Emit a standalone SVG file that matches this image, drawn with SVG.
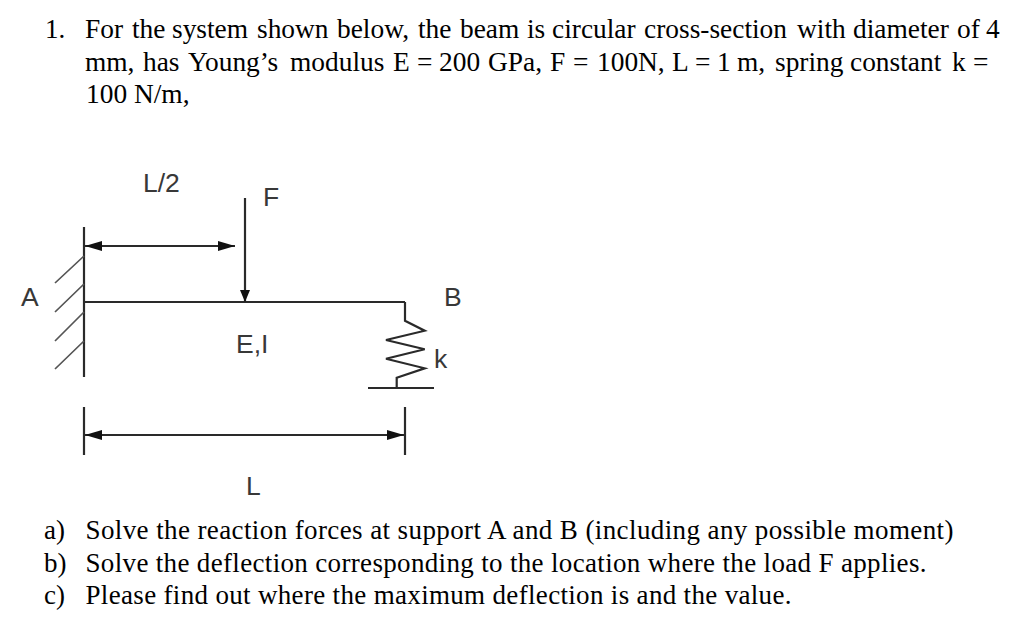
<svg xmlns="http://www.w3.org/2000/svg" width="1024" height="628" viewBox="0 0 1024 628">
<style>
.t{font-family:"Liberation Serif","Times New Roman",serif;font-size:27px;fill:#000}
.w{font-size:27.400px}
.l{font-family:"Liberation Sans",Arial,sans-serif;font-size:26.500px;fill:#383838}
.s{stroke:#2a2a2a;stroke-width:2.200;fill:none}
.h{stroke:#555;stroke-width:1.700;fill:none}
</style>
<defs>
<marker id="a" markerUnits="userSpaceOnUse" markerWidth="18" markerHeight="12" refX="17" refY="6" orient="auto-start-reverse"><path d="M0 1L17 6L0 11Z" fill="#111"/></marker>
<marker id="b" markerUnits="userSpaceOnUse" markerWidth="13" markerHeight="12" refX="12" refY="6" orient="auto"><path d="M0 1L12 6L0 11Z" fill="#111"/></marker>
</defs>
<rect width="1024" height="628" fill="#fff"/>
<g id="problem-text">
<text class="t" x="45" y="38">1.</text>
<text class="t w" y="38"><tspan x="85">For</tspan><tspan x="132">the</tspan><tspan x="172">system</tspan><tspan x="257">shown</tspan><tspan x="337">below,</tspan><tspan x="418">the</tspan><tspan x="460">beam</tspan><tspan x="527">is</tspan><tspan x="552">circular</tspan><tspan x="644">cross-section</tspan><tspan x="797">with</tspan><tspan x="853">diameter</tspan><tspan x="957">of</tspan><tspan x="986">4</tspan></text>
<text class="t w" y="70.500"><tspan x="85">mm,</tspan><tspan x="143">has</tspan><tspan x="188">Young’s</tspan><tspan x="290">modulus</tspan><tspan x="393">E</tspan><tspan x="417">=</tspan><tspan x="439">200</tspan><tspan x="488">GPa,</tspan><tspan x="550">F</tspan><tspan x="573">=</tspan><tspan x="597">100N,</tspan><tspan x="672">L</tspan><tspan x="695">=</tspan><tspan x="717">1</tspan><tspan x="737">m,</tspan><tspan x="775">spring</tspan><tspan x="850">constant</tspan><tspan x="952">k</tspan><tspan x="973">=</tspan></text>
<text class="t w" x="86" y="103">100 N/m,</text>
</g>
<g id="wall">
<path class="s" d="M84 227V377"/>
<path class="h" d="M84 256L55 283M84 284L55 312M84 312L55 341M84 341L55 369"/>
<text class="l" x="21" y="306">A</text>
</g>
<g id="beam">
<path class="s" d="M84 302H405"/>
<text class="l" x="236" y="353">E,I</text>
<text class="l" x="444" y="306">B</text>
</g>
<g id="spring">
<path class="s" d="M405 302V320.700L424.700 330.700L386 340L424.700 349.300L386 358.700L424.700 368.300L396.700 377.700V388M368 388H434"/>
<text class="l" x="434" y="368">k</text>
</g>
<g id="load">
<text class="l" x="263" y="206">F</text>
</g>
<g id="dimension-half">
<text class="l" x="143" y="192">L/2</text>
</g>
<g id="dimension-full">
<text class="l" x="246" y="495">L</text>
</g>
<g id="connectors">
<path class="s" d="M245 198V302" marker-end="url(#b)"/>
<path class="s" d="M85 246H235" marker-start="url(#a)" marker-end="url(#a)"/>
<path class="s" d="M85 435H404" marker-start="url(#a)" marker-end="url(#a)"/>
<path class="s" d="M84 407V455M405 407V455"/>
</g>
<g id="questions">
<text class="t" x="44" y="539">a)</text>
<text class="t" x="85.500" y="539" textLength="868">Solve the reaction forces at support A and B (including any possible moment)</text>
<text class="t" x="44" y="571.500">b)</text>
<text class="t" x="85.500" y="571.500" textLength="841">Solve the deflection corresponding to the location where the load F applies.</text>
<text class="t" x="44" y="603.500">c)</text>
<text class="t" x="85.500" y="603.500" textLength="706">Please find out where the maximum deflection is and the value.</text>
</g>
</svg>
